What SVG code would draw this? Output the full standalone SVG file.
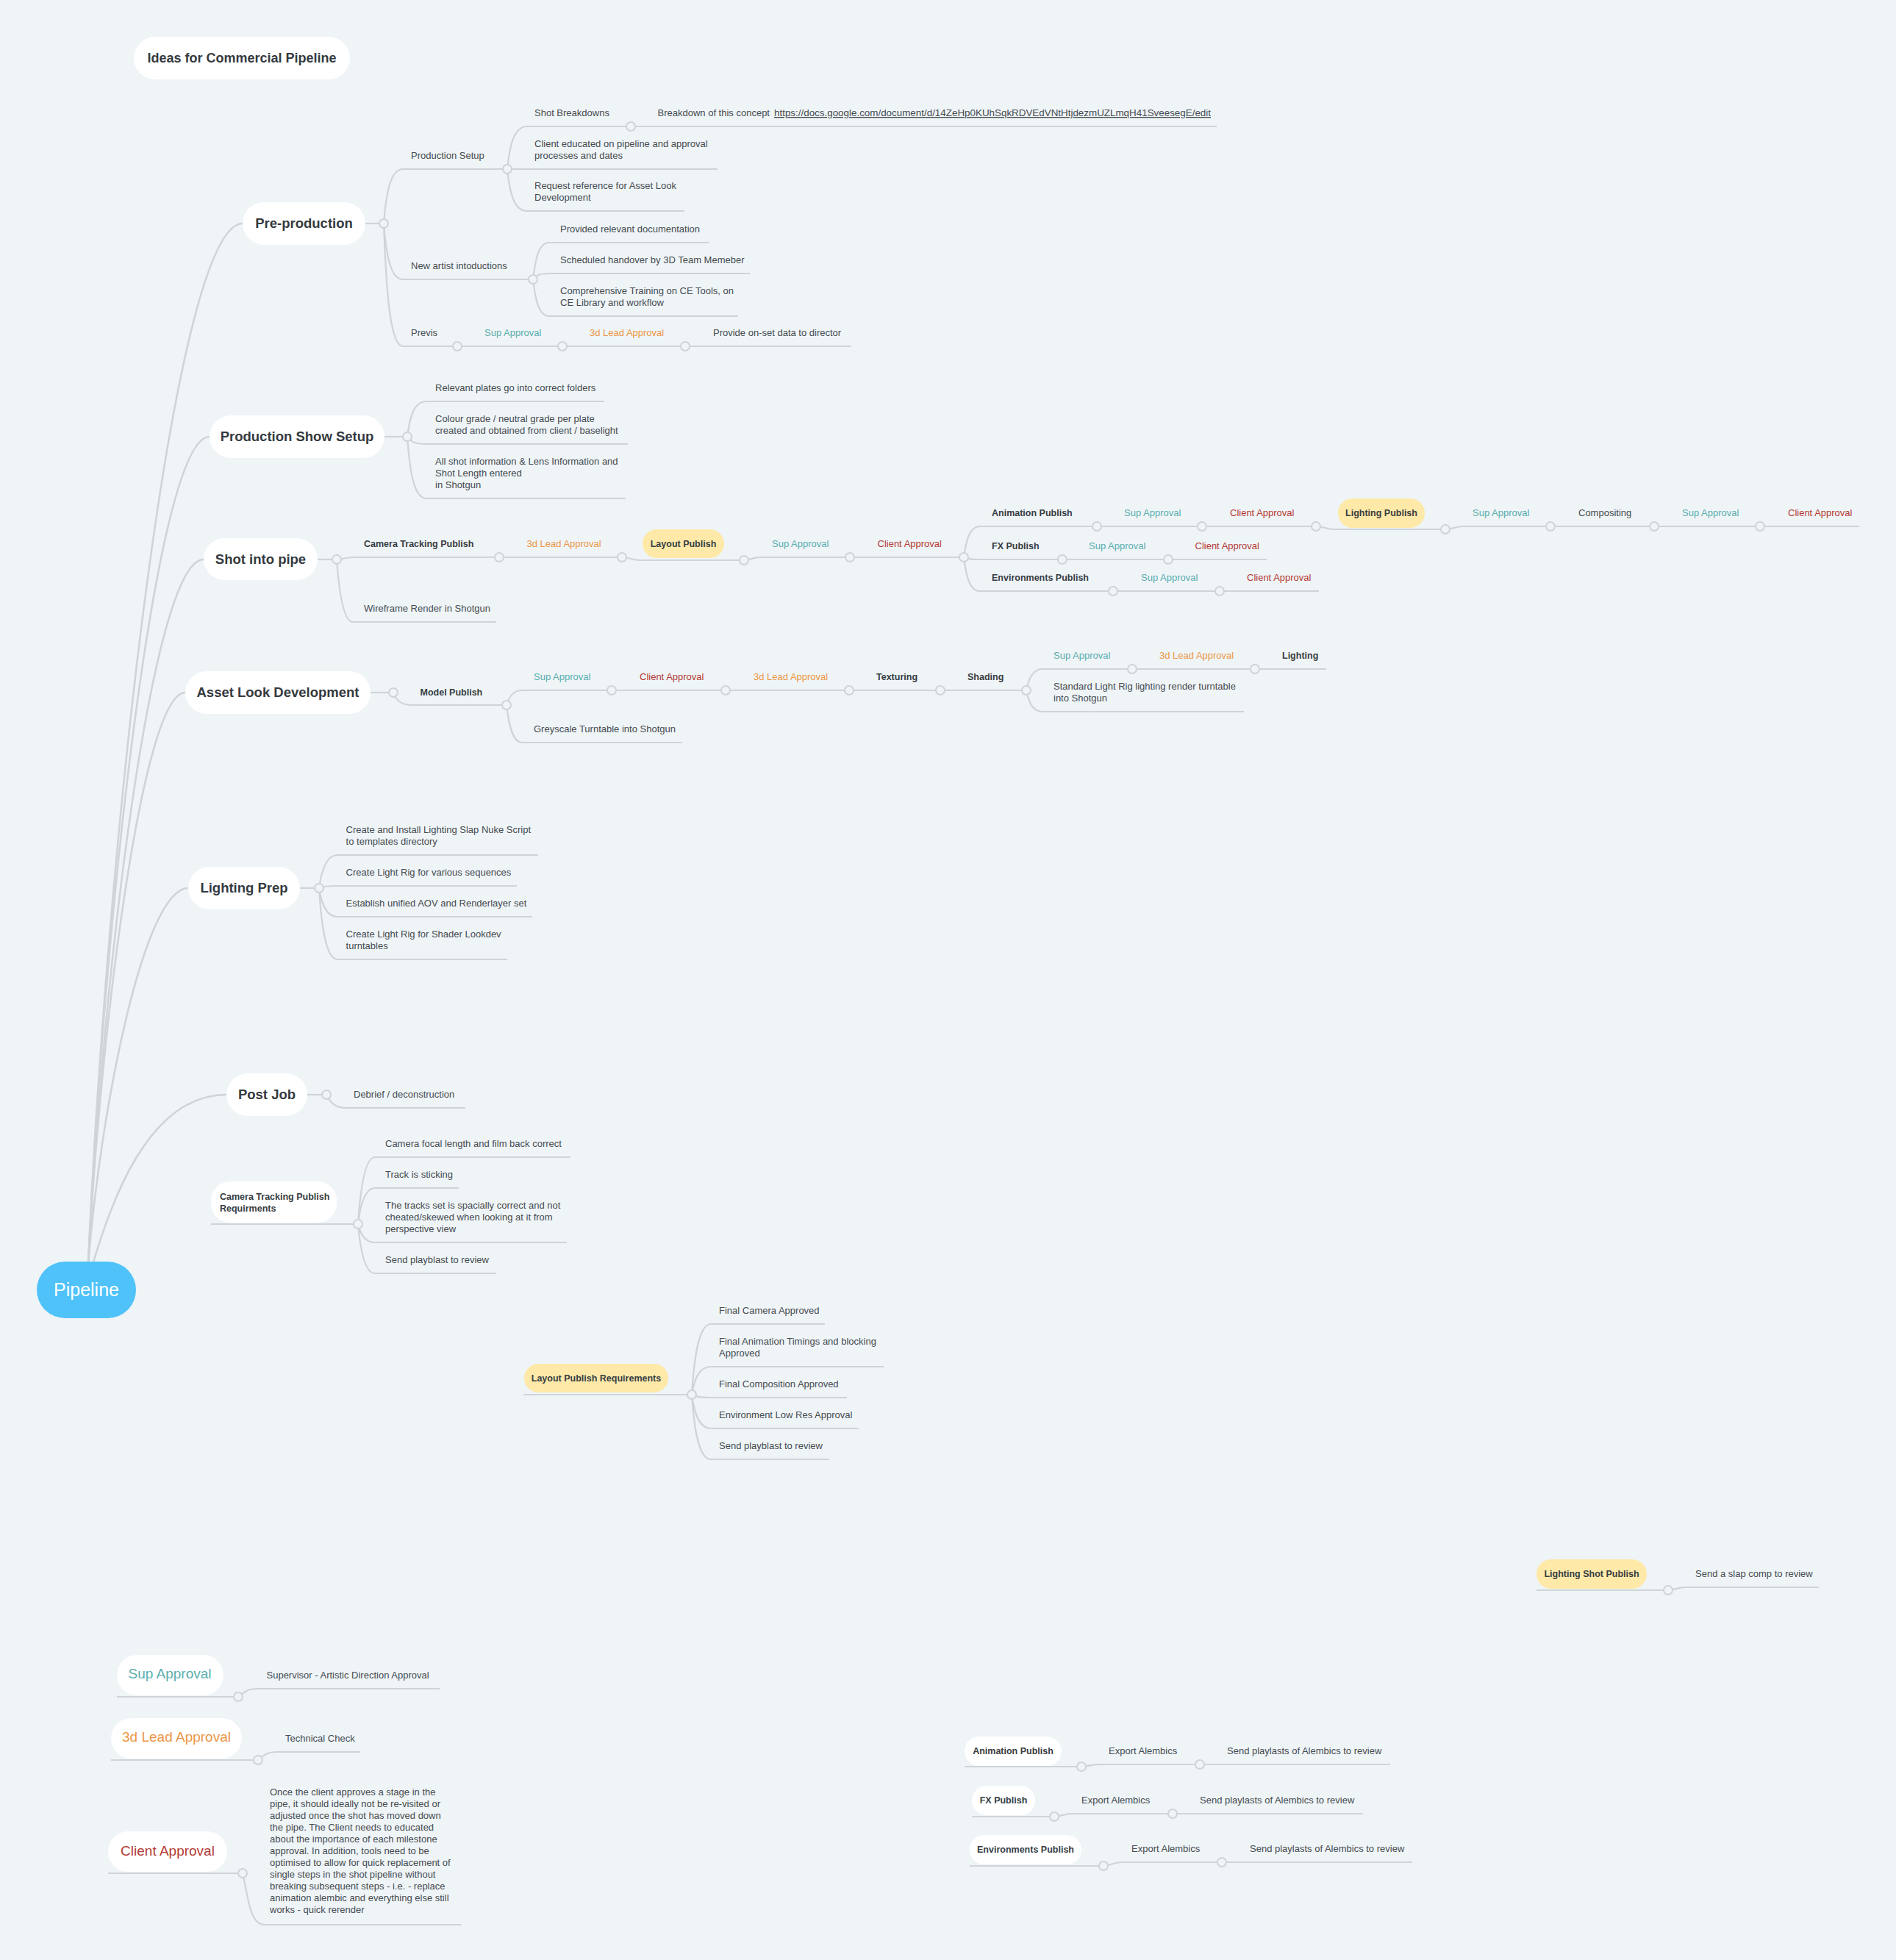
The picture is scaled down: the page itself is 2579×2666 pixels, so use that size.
<svg xmlns="http://www.w3.org/2000/svg" width="2579" height="2666" viewBox="0 0 2579 2666">
<defs>
<style>
.c{fill:none;stroke:#cfd4d8;stroke-width:2.2}
.r{fill:none;stroke:#cfd4d8;stroke-width:2.6}
.k{fill:#eff4f7;stroke:#cfd4d8;stroke-width:2}
text{font-family:"Liberation Sans",Arial,sans-serif}
.t{font-size:13px;fill:#454b50}
.b{font-size:12.5px;font-weight:bold;fill:#373d42}
.m{font-size:18.5px;font-weight:bold;fill:#343a3f;text-anchor:middle}
.mid{text-anchor:middle}
.sup{fill:#5aaeae}
.lead{fill:#ec9646}
.cli{fill:#b33a33}
.w{fill:#ffffff}
.y{fill:#fee9a8}
.lg{font-size:19px;text-anchor:middle}
</style>
</defs>
<rect x="0" y="0" width="2579" height="2666" fill="#eff4f7"/>

<g id="connectors">
<path class="r" d="M120 1720 C145 1154 236 304 330 304"/>
<path class="r" d="M120 1720 C140 1270 211 594 285 594"/>
<path class="r" d="M120 1720 C139 1336 206 761 277 761"/>
<path class="r" d="M120 1720 C136 1409 193 942 252 942"/>
<path class="r" d="M120 1720 C136 1515 195 1208 256 1208"/>
<path class="r" d="M126 1720 C150 1640 200 1489 308 1489"/>

<path class="c" d="M497 304 H516"/>
<path class="c" d="M522 304 C525 267 530 230 548 230 H684"/>
<path class="c" d="M522 304 C525 342 530 380 548 380 H719"/>
<path class="c" d="M522 304 C525 388 530 471 548 471 H1158"/>
<path class="c" d="M690 230 C693 201 698 172 717 172 H1655"/>
<path class="c" d="M690 230 H976"/>
<path class="c" d="M690 230 C693 259 698 287 717 287 H931"/>
<path class="c" d="M725 380 C728 355 732 330 747 330 H964"/>
<path class="c" d="M725 380 C728 376 732 372 747 372 H1020"/>
<path class="c" d="M725 380 C728 405 732 430 747 430 H1004"/>

<path class="c" d="M523 594 H548"/>
<path class="c" d="M554 594 C557 570 562 546 580 546 H822"/>
<path class="c" d="M554 594 C557 599 562 604 580 604 H854"/>
<path class="c" d="M554 594 C557 636 562 678 580 678 H851"/>

<path class="c" d="M432 761 H452"/>
<path class="c" d="M458 761 C465 761 470 758 480 758 H846 C856 758 860 762 870 762 H1012 C1020 762 1024 758 1034 758 H1311"/>
<path class="c" d="M458 761 C461 803 467 846 480 846 H675"/>
<path class="c" d="M1311 758 C1314 737 1318 716 1333 716 H1790 C1800 716 1805 720 1815 720 H1966 C1975 720 1980 716 1990 716 H2529"/>
<path class="c" d="M1311 758 C1314 760 1318 761 1333 761 H1723"/>
<path class="c" d="M1311 758 C1314 781 1318 804 1333 804 H1794"/>

<path class="c" d="M504 942 H529"/>
<path class="c" d="M535 942 C538 951 545 959 560 959 H689"/>
<path class="c" d="M689 959 C692 949 697 939 710 939 H1396"/>
<path class="c" d="M689 959 C692 985 697 1010 710 1010 H928"/>
<path class="c" d="M1396 939 C1399 925 1404 910 1418 910 H1804"/>
<path class="c" d="M1396 939 C1399 954 1404 968 1418 968 H1692"/>

<path class="c" d="M408 1208 H428"/>
<path class="c" d="M434 1208 C437 1186 443 1163 459 1163 H732"/>
<path class="c" d="M434 1208 C437 1206 443 1205 459 1205 H703"/>
<path class="c" d="M434 1208 C437 1228 443 1247 459 1247 H724"/>
<path class="c" d="M434 1208 C437 1257 443 1305 459 1305 H690"/>

<path class="c" d="M418 1489 H438"/>
<path class="c" d="M444 1489 C448 1498 455 1507 470 1507 H633"/>

<path class="c" d="M287 1665 H481"/>
<path class="c" d="M487 1665 C490 1620 496 1574 510 1574 H776"/>
<path class="c" d="M487 1665 C490 1640 496 1616 510 1616 H624"/>
<path class="c" d="M487 1665 C490 1678 496 1690 510 1690 H771"/>
<path class="c" d="M487 1665 C490 1699 496 1732 510 1732 H675"/>

<path class="c" d="M712 1897 H935"/>
<path class="c" d="M941 1897 C944 1849 950 1801 967 1801 H1122"/>
<path class="c" d="M941 1897 C944 1878 950 1859 967 1859 H1202"/>
<path class="c" d="M941 1897 C944 1899 950 1901 967 1901 H1152"/>
<path class="c" d="M941 1897 C944 1920 950 1943 967 1943 H1168"/>
<path class="c" d="M941 1897 C944 1941 950 1985 967 1985 H1128"/>

<path class="c" d="M2090 2163 H2263"/>
<path class="c" d="M2269 2163 C2278 2163 2282 2159 2293 2159 H2474"/>

<path class="c" d="M159 2308 H318"/>
<path class="c" d="M324 2308 C334 2300 338 2297 350 2297 H598"/>
<path class="c" d="M151 2394 H345"/>
<path class="c" d="M351 2394 C360 2386 365 2383 377 2383 H490"/>
<path class="c" d="M147 2548 H324"/>
<path class="c" d="M330 2548 C338 2583 340 2618 360 2618 H628"/>

<path class="c" d="M1312 2403 H1465"/>
<path class="c" d="M1471 2403 C1480 2403 1484 2400 1495 2400 H1891"/>
<path class="c" d="M1322 2471 H1428"/>
<path class="c" d="M1434 2471 C1443 2471 1447 2467 1458 2467 H1854"/>
<path class="c" d="M1319 2538 H1495"/>
<path class="c" d="M1501 2538 C1510 2538 1514 2533 1525 2533 H1921"/>

<g id="collapse-points">
<circle class="k" cx="522" cy="304" r="6"/><circle class="k" cx="690" cy="230" r="6"/><circle class="k" cx="858" cy="172" r="6"/><circle class="k" cx="725" cy="380" r="6"/><circle class="k" cx="622" cy="471" r="6"/><circle class="k" cx="765" cy="471" r="6"/><circle class="k" cx="932" cy="471" r="6"/>
<circle class="k" cx="554" cy="594" r="6"/>
<circle class="k" cx="458" cy="761" r="6"/><circle class="k" cx="679" cy="758" r="6"/><circle class="k" cx="846" cy="758" r="6"/><circle class="k" cx="1012" cy="762" r="6"/><circle class="k" cx="1156" cy="758" r="6"/><circle class="k" cx="1311" cy="758" r="6"/>
<circle class="k" cx="1492" cy="716" r="6"/><circle class="k" cx="1635" cy="716" r="6"/><circle class="k" cx="1790" cy="716" r="6"/><circle class="k" cx="1966" cy="720" r="6"/><circle class="k" cx="2109" cy="716" r="6"/><circle class="k" cx="2250" cy="716" r="6"/><circle class="k" cx="2394" cy="716" r="6"/>
<circle class="k" cx="1445" cy="761" r="6"/><circle class="k" cx="1589" cy="761" r="6"/>
<circle class="k" cx="1514" cy="804" r="6"/><circle class="k" cx="1659" cy="804" r="6"/>
<circle class="k" cx="535" cy="942" r="6"/><circle class="k" cx="689" cy="959" r="6"/><circle class="k" cx="832" cy="939" r="6"/><circle class="k" cx="987" cy="939" r="6"/><circle class="k" cx="1155" cy="939" r="6"/><circle class="k" cx="1279" cy="939" r="6"/><circle class="k" cx="1396" cy="939" r="6"/><circle class="k" cx="1540" cy="910" r="6"/><circle class="k" cx="1707" cy="910" r="6"/>
<circle class="k" cx="434" cy="1208" r="6"/>
<circle class="k" cx="444" cy="1489" r="6"/>
<circle class="k" cx="487" cy="1665" r="6"/>
<circle class="k" cx="941" cy="1897" r="6"/>
<circle class="k" cx="2269" cy="2163" r="6"/>
<circle class="k" cx="324" cy="2308" r="6"/><circle class="k" cx="351" cy="2394" r="6"/><circle class="k" cx="330" cy="2548" r="6"/>
<circle class="k" cx="1471" cy="2403" r="6"/><circle class="k" cx="1632" cy="2400" r="6"/><circle class="k" cx="1434" cy="2471" r="6"/><circle class="k" cx="1595" cy="2467" r="6"/><circle class="k" cx="1501" cy="2538" r="6"/><circle class="k" cx="1662" cy="2533" r="6"/>
</g>
</g>

<g id="title">
<rect class="w" x="182" y="50" width="294" height="58" rx="29"/>
<text class="m" x="329" y="85" style="font-size:18px">Ideas for Commercial Pipeline</text>
</g>

<g id="root">
<rect x="50" y="1716" width="135" height="77" rx="38.5" fill="#4fc3f9"/>
<text class="mid" x="117.5" y="1763" style="font-size:25px;fill:#ffffff">Pipeline</text>
</g>

<g id="pre-production">
<rect class="w" x="330" y="275" width="167" height="58" rx="29"/>
<text class="m" x="413.5" y="310">Pre-production</text>
<text class="t" x="559" y="216">Production Setup</text>
<text class="t" x="559" y="366">New artist intoductions</text>
<text class="t" x="559" y="457">Previs</text>
<text class="t sup" x="659" y="457">Sup Approval</text>
<text class="t lead" x="802" y="457">3d Lead Approval</text>
<text class="t" x="970" y="457">Provide on-set data to director</text>
<text class="t" x="727" y="158">Shot Breakdowns</text>
<text class="t" x="894.5" y="158">Breakdown of this concept</text>
<text class="t" x="1053" y="158" textLength="594" lengthAdjust="spacingAndGlyphs" text-decoration="underline">https://docs.google.com/document/d/14ZeHp0KUhSqkRDVEdVNtHtjdezmUZLmqH41SveesegE/edit</text>
<text class="t" x="727" y="200">Client educated on pipeline and approval</text>
<text class="t" x="727" y="216">processes and dates</text>
<text class="t" x="727" y="257">Request reference for Asset Look</text>
<text class="t" x="727" y="273">Development</text>
<text class="t" x="762" y="316">Provided relevant documentation</text>
<text class="t" x="762" y="358">Scheduled handover by 3D Team Memeber</text>
<text class="t" x="762" y="400">Comprehensive Training on CE Tools, on</text>
<text class="t" x="762" y="416">CE Library and workflow</text>
</g>

<g id="production-show-setup">
<rect class="w" x="285" y="565" width="238" height="58" rx="29"/>
<text class="m" x="404" y="600">Production Show Setup</text>
<text class="t" x="592" y="532">Relevant plates go into correct folders</text>
<text class="t" x="592" y="574">Colour grade / neutral grade per plate</text>
<text class="t" x="592" y="590">created and obtained from client / baselight</text>
<text class="t" x="592" y="632">All shot information &amp; Lens Information and</text>
<text class="t" x="592" y="648">Shot Length entered</text>
<text class="t" x="592" y="664">in Shotgun</text>
</g>

<g id="shot-into-pipe">
<rect class="w" x="277" y="732" width="155" height="57" rx="28.5"/>
<text class="m" x="354.5" y="767">Shot into pipe</text>
<text class="b" x="495" y="744">Camera Tracking Publish</text>
<text class="t lead" x="716.5" y="744">3d Lead Approval</text>
<rect class="y" x="874" y="720" width="111" height="39" rx="19.5"/>
<text class="b mid" x="929.5" y="744">Layout Publish</text>
<text class="t sup" x="1050" y="744">Sup Approval</text>
<text class="t cli" x="1193.5" y="744">Client Approval</text>
<text class="t" x="495" y="832">Wireframe Render in Shotgun</text>
<text class="b" x="1349" y="702">Animation Publish</text>
<text class="t sup" x="1529" y="702">Sup Approval</text>
<text class="t cli" x="1673" y="702">Client Approval</text>
<rect class="y" x="1820" y="678" width="118" height="40" rx="20"/>
<text class="b mid" x="1879" y="702">Lighting Publish</text>
<text class="t sup" x="2003" y="702">Sup Approval</text>
<text class="t" x="2147" y="702">Compositing</text>
<text class="t sup" x="2288" y="702">Sup Approval</text>
<text class="t cli" x="2432" y="702">Client Approval</text>
<text class="b" x="1349" y="747">FX Publish</text>
<text class="t sup" x="1481" y="747">Sup Approval</text>
<text class="t cli" x="1625.5" y="747">Client Approval</text>
<text class="b" x="1349" y="790">Environments Publish</text>
<text class="t sup" x="1552" y="790">Sup Approval</text>
<text class="t cli" x="1696" y="790">Client Approval</text>
</g>

<g id="asset-look-development">
<rect class="w" x="252" y="913" width="252" height="58" rx="29"/>
<text class="m" x="378" y="948">Asset Look Development</text>
<text class="b" x="571.5" y="946">Model Publish</text>
<text class="t sup" x="726" y="925">Sup Approval</text>
<text class="t cli" x="870" y="925">Client Approval</text>
<text class="t lead" x="1025" y="925">3d Lead Approval</text>
<text class="b" x="1192" y="925">Texturing</text>
<text class="b" x="1316" y="925">Shading</text>
<text class="t" x="726" y="996">Greyscale Turntable into Shotgun</text>
<text class="t sup" x="1433" y="896">Sup Approval</text>
<text class="t lead" x="1577" y="896">3d Lead Approval</text>
<text class="b" x="1744" y="896">Lighting</text>
<text class="t" x="1433" y="938">Standard Light Rig lighting render turntable</text>
<text class="t" x="1433" y="954">into Shotgun</text>
</g>

<g id="lighting-prep">
<rect class="w" x="256" y="1179" width="152" height="58" rx="29"/>
<text class="m" x="332" y="1214">Lighting Prep</text>
<text class="t" x="470.6" y="1133">Create and Install Lighting Slap Nuke Script</text>
<text class="t" x="470.6" y="1149">to templates directory</text>
<text class="t" x="470.6" y="1191">Create Light Rig for various sequences</text>
<text class="t" x="470.6" y="1233">Establish unified AOV and Renderlayer set</text>
<text class="t" x="470.6" y="1275">Create Light Rig for Shader Lookdev</text>
<text class="t" x="470.6" y="1291">turntables</text>
</g>

<g id="post-job">
<rect class="w" x="308" y="1460" width="110" height="58" rx="29"/>
<text class="m" x="363" y="1495">Post Job</text>
<text class="t" x="481" y="1493">Debrief / deconstruction</text>
</g>

<g id="camera-tracking-requirements">
<rect class="w" x="287" y="1607" width="171" height="56" rx="26"/>
<text class="b" x="299" y="1632">Camera Tracking Publish</text>
<text class="b" x="299" y="1648">Requirments</text>
<text class="t" x="524" y="1560">Camera focal length and film back correct</text>
<text class="t" x="524" y="1602">Track is sticking</text>
<text class="t" x="524" y="1644">The tracks set is spacially correct and not</text>
<text class="t" x="524" y="1660">cheated/skewed when looking at it from</text>
<text class="t" x="524" y="1676">perspective view</text>
<text class="t" x="524" y="1718">Send playblast to review</text>
</g>

<g id="layout-publish-requirements">
<rect class="y" x="713" y="1855" width="196" height="39" rx="19.5"/>
<text class="b mid" x="811" y="1879">Layout Publish Requirements</text>
<text class="t" x="978" y="1787">Final Camera Approved</text>
<text class="t" x="978" y="1829">Final Animation Timings and blocking</text>
<text class="t" x="978" y="1845">Approved</text>
<text class="t" x="978" y="1887">Final Composition Approved</text>
<text class="t" x="978" y="1929">Environment Low Res Approval</text>
<text class="t" x="978" y="1971">Send playblast to review</text>
</g>

<g id="lighting-shot-publish">
<rect class="y" x="2090" y="2121" width="150" height="40" rx="20"/>
<text class="b mid" x="2165" y="2145">Lighting Shot Publish</text>
<text class="t" x="2306" y="2145">Send a slap comp to review</text>
</g>

<g id="legend-sup">
<rect class="w" x="159" y="2251" width="145" height="55" rx="27.5"/>
<text class="lg sup" x="231" y="2283">Sup Approval</text>
<text class="t" x="362.5" y="2283">Supervisor - Artistic Direction Approval</text>
</g>

<g id="legend-lead">
<rect class="w" x="151" y="2337" width="178" height="55" rx="27.5"/>
<text class="lg lead" x="240" y="2369">3d Lead Approval</text>
<text class="t" x="388" y="2369">Technical Check</text>
</g>

<g id="legend-client">
<rect class="w" x="147" y="2491" width="162" height="55" rx="27.5"/>
<text class="lg cli" x="228" y="2524">Client Approval</text>
<text class="t" x="367" y="2442">Once the client approves a stage in the</text>
<text class="t" x="367" y="2458">pipe, it should ideally not be re-visited or</text>
<text class="t" x="367" y="2474">adjusted once the shot has moved down</text>
<text class="t" x="367" y="2490">the pipe. The Client needs to educated</text>
<text class="t" x="367" y="2506">about the importance of each milestone</text>
<text class="t" x="367" y="2522">approval. In addition, tools need to be</text>
<text class="t" x="367" y="2538">optimised to allow for quick replacement of</text>
<text class="t" x="367" y="2554">single steps in the shot pipeline without</text>
<text class="t" x="367" y="2570">breaking subsequent steps - i.e. - replace</text>
<text class="t" x="367" y="2586">animation alembic and everything else still</text>
<text class="t" x="367" y="2602">works - quick rerender</text>
</g>

<g id="animation-publish">
<rect class="w" x="1312" y="2362" width="132" height="40" rx="20"/>
<text class="b mid" x="1378" y="2386">Animation Publish</text>
<text class="t" x="1508" y="2386">Export Alembics</text>
<text class="t" x="1669" y="2386">Send playlasts of Alembics to review</text>
</g>

<g id="fx-publish">
<rect class="w" x="1322" y="2429" width="86" height="40" rx="20"/>
<text class="b mid" x="1365" y="2453">FX Publish</text>
<text class="t" x="1471" y="2453">Export Alembics</text>
<text class="t" x="1632" y="2453">Send playlasts of Alembics to review</text>
</g>

<g id="environments-publish">
<rect class="w" x="1319" y="2496" width="152" height="40" rx="20"/>
<text class="b mid" x="1395" y="2520">Environments Publish</text>
<text class="t" x="1539" y="2519">Export Alembics</text>
<text class="t" x="1700" y="2519">Send playlasts of Alembics to review</text>
</g>
</svg>
